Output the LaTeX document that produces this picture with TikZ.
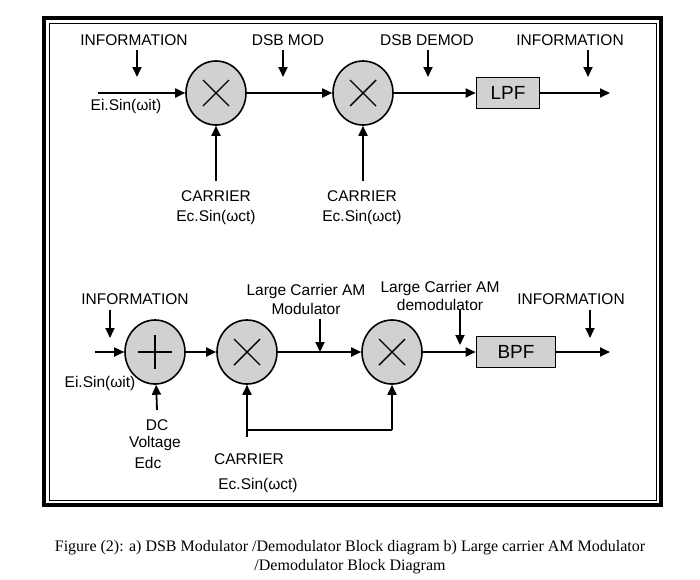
\documentclass[tikz,border=0pt]{standalone}
\usepackage{fontspec}
\setmainfont{Liberation Sans}
\newfontfamily\capfont{Liberation Serif}
\usetikzlibrary{arrows.meta,shapes.geometric}
\begin{document}
\begin{tikzpicture}[x=1pt,y=-1pt,
  lbl/.style={font=\fontsize{15.5}{18}\selectfont,inner sep=0pt,align=center},
  blk/.style={draw,line width=1.6pt,fill=black!18},
  mix/.style={blk,ellipse,minimum width=60pt,minimum height=64pt,inner sep=0pt},
  filt/.style={blk,rectangle,minimum height=31pt,font=\fontsize{19}{20}\selectfont},
  arr/.style={line width=1.8pt,-{Triangle[length=10pt,width=9pt]}},
  sym/.style={line width=1.4pt}]
\useasboundingbox (0,0) rectangle (700,579);
\draw[line width=3.5pt] (44,18) rectangle (661,505);
\draw[line width=0.6pt] (49,23) rectangle (656,500);
% top row
\node[mix] (m1) at (216,93) {};
\node[mix] (m2) at (363,93) {};
\node[filt,minimum width=63pt] (lpf) at (508,93) {LPF};
\foreach \n in {m1,m2}{\draw[sym] (\n.center)+(-13,-13)--+(13,13) (\n.center)+(13,-13)--+(-13,13);}
\coordinate (in1) at (98,93); \coordinate (out1) at (610,93);
\draw[arr] (in1)--(m1); \draw[arr] (m1)--(m2); \draw[arr] (m2)--(lpf); \draw[arr] (lpf)--(out1);
\node[lbl] (t1) at (134,40) {INFORMATION};
\node[lbl] (t2) at (288,40) {DSB MOD};
\node[lbl] (t3) at (427,40) {DSB DEMOD};
\node[lbl] (t4) at (570,40) {INFORMATION};
\foreach \x/\t in {137/t1,283/t2,428/t3,588/t4}{\coordinate (a\t) at (\x,50); \coordinate (b\t) at (\x,77); \draw[arr] (a\t)--(b\t);}
\node[lbl] at (126,106) {Ei.Sin(ωit)};
\node[lbl] (c1) at (216,208) {CARRIER\\[2pt]Ec.Sin(ωct)};
\node[lbl] (c2) at (362,208) {CARRIER\\[2pt]Ec.Sin(ωct)};
\coordinate (c1t) at (216,181); \coordinate (c2t) at (363,181);
\draw[arr] (c1t)--(m1); \draw[arr] (c2t)--(m2);
% bottom row
\node[mix] (ad) at (155,352) {};
\draw[sym] (ad.center)+(-17,0)--+(17,0) (ad.center)+(0,-17)--+(0,17);
\node[mix] (m3) at (247,352) {};
\node[mix] (m4) at (392,352) {};
\foreach \n in {m3,m4}{\draw[sym] (\n.center)+(-13,-13)--+(13,13) (\n.center)+(13,-13)--+(-13,13);}
\node[filt,minimum width=79pt] (bpf) at (516,352) {BPF};
\coordinate (in2) at (95,352); \coordinate (out2) at (610,352);
\draw[arr] (in2)--(ad); \draw[arr] (ad)--(m3); \draw[arr] (m3)--(m4); \draw[arr] (m4)--(bpf); \draw[arr] (bpf)--(out2);
\node[lbl] (u1) at (135,299) {INFORMATION};
\node[lbl] (u2) at (306,299) {Large Carrier AM\\[1pt]Modulator};
\node[lbl] (u3) at (440,296) {Large Carrier AM\\[0pt]demodulator};
\node[lbl] (u4) at (571,299) {INFORMATION};
\coordinate (u1a) at (110,310); \coordinate (u1b) at (110,338); \draw[arr] (u1a)--(u1b);
\coordinate (u2a) at (320,319); \coordinate (u2b) at (320,352); \draw[arr] (u2a)--(u2b);
\coordinate (u3a) at (460,309); \coordinate (u3b) at (460,345); \draw[arr] (u3a)--(u3b);
\coordinate (u4a) at (590,310); \coordinate (u4b) at (590,338); \draw[arr] (u4a)--(u4b);
\node[lbl] at (100,383) {Ei.Sin(ωit)};
\coordinate (dc) at (157,410); \draw[arr] (dc)--(ad);
\node[lbl] at (157,425) {DC};
\node[lbl] at (155,443) {Voltage};
\node[lbl] at (148,463) {Edc};
\coordinate (cb) at (247,437); \coordinate (cj) at (247,430); \coordinate (cr) at (392,430);
\draw[line width=1.8pt] (cb)--(cj)--(cr);
\draw[arr] (cj)--(m3); \draw[arr] (cr)--(m4);
\node[lbl] at (249,459) {CARRIER};
\node[lbl] at (258,485) {Ec.Sin(ωct)};
% caption
\node[font=\capfont\fontsize{16}{19}\selectfont,align=center,inner sep=0pt] at (350,557) {Figure (2): a) DSB Modulator /Demodulator Block diagram b) Large carrier AM Modulator\\/Demodulator Block Diagram};
\end{tikzpicture}
\end{document}
